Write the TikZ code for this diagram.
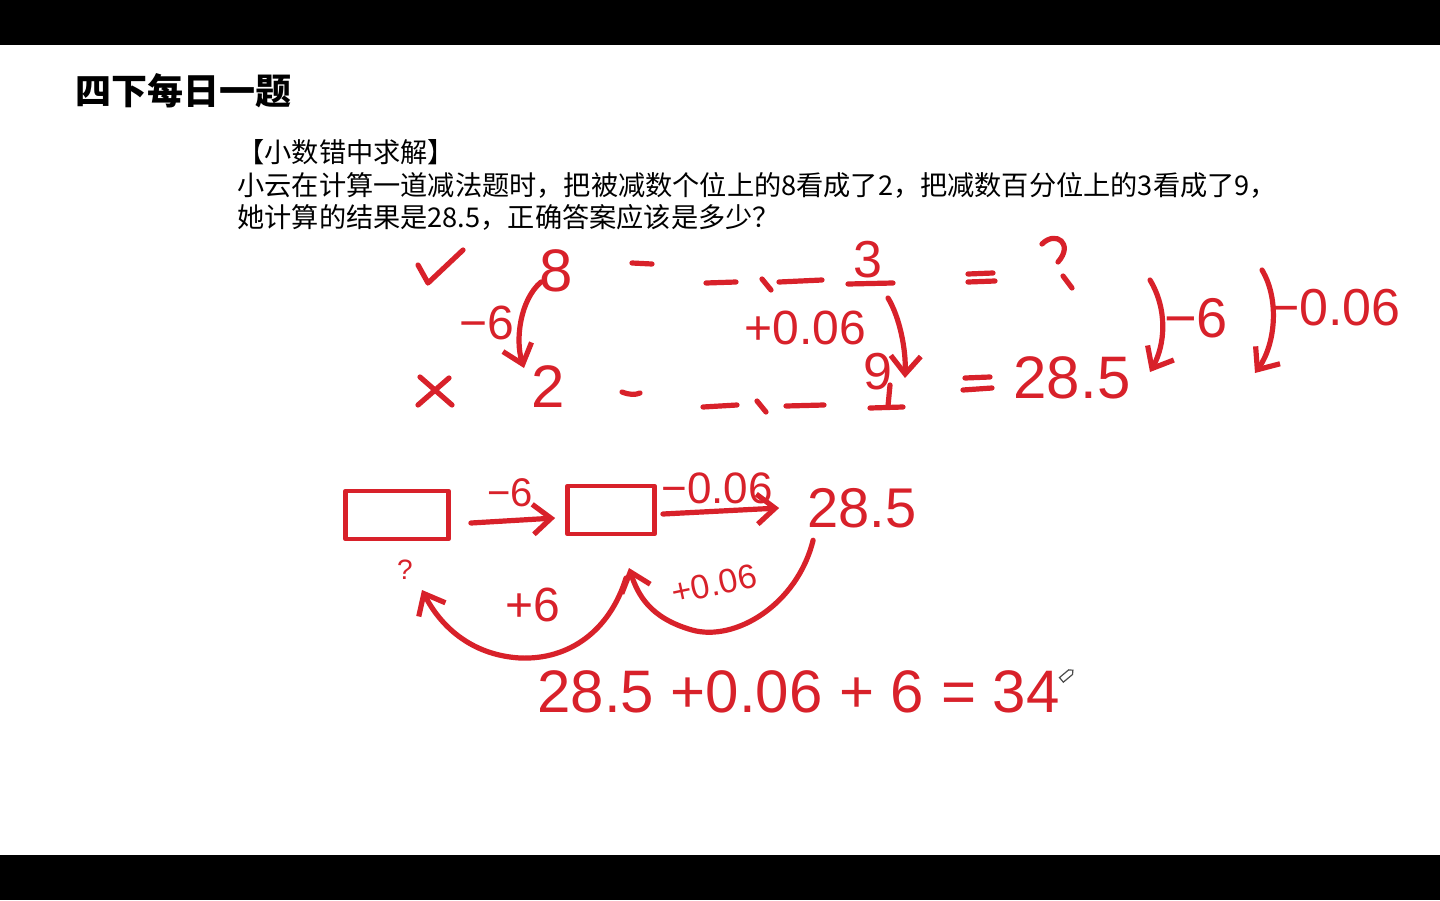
\documentclass[tikz,border=0pt]{standalone}
\usepackage{fontspec}
\usetikzlibrary{arrows.meta}
\newfontfamily\cjk{Noto Sans CJK SC}
\newfontfamily\hwfont{Liberation Sans}
\newcommand\hwsz[1]{\fontsize{#1}{#1}\selectfont}
\definecolor{pen}{RGB}{216,33,42}
\tikzset{
  ink/.style={draw=pen, line width=2.6pt, line cap=round, line join=round},
  inkarrow/.style={ink, -{Straight Barb[length=9pt,width=15pt]}},
  hw/.style={text=pen, font=\hwfont\hwsz{30}, inner sep=0pt},
  cjktext/.style={anchor=west, inner sep=0pt, font=\cjk\hwsz{13.6}},
  inkbox/.style={ink, line width=2.4pt, rectangle, inner sep=0pt}
}
\begin{document}
\begin{tikzpicture}[x=0.5pt,y=-0.5pt]
\useasboundingbox (0,0) rectangle (1440,900);
\fill[black] (0,0) rectangle (1440,900);
\fill[white] (0,45) rectangle (1440,855);

% title and problem text
\node[cjktext, font=\cjk\bfseries\hwsz{18}] (title) at (75,91) {四下每日一题};
\node[cjktext] (l1) at (237,152) {【小数错中求解】};
\node[cjktext] (l2) at (237,185) {小云在计算一道减法题时，把被减数个位上的8看成了2，把减数百分位上的3看成了9，};
\node[cjktext] (l3) at (237,217) {她计算的结果是28.5，正确答案应该是多少？};

% row 1
\draw[ink] (418,265) -- (428,283) -- (463,250);
\node[hw] (eight) at (556,271) {8};
\draw[ink] (632,263) -- (652,264);
\draw[ink] (706,283) -- (736,282);
\draw[ink] (762,279) -- (771,290);
\draw[ink] (779,282) -- (822,280);
\node[hw, font=\hwfont\hwsz{26}] (three) at (868,260) {3};
\draw[ink] (848,284) -- (893,283);
\draw[ink] (968,274) -- (993,273);
\draw[ink] (968,282) -- (995,281);
\draw[ink] (1042,244) .. controls (1056,230) and (1074,244) .. (1058,262);
\draw[ink] (1063,276) -- (1072,288);

% middle labels and arrows
\node[hw, font=\hwfont\hwsz{24}] (m6) at (487,323) {−6};
\node[hw, font=\hwfont\hwsz{24}] (p006) at (805,328) {+0.06};
\coordinate (a1e) at (524,368);
\draw[inkarrow] (541,282) .. controls (520,300) and (515,340) .. (a1e);
\coordinate (a2s) at (888,298);
\coordinate (a2e) at (905,378);
\draw[inkarrow] (a2s) .. controls (900,318) and (906,350) .. (a2e);

% row 2
\draw[ink] (420,377) -- (452,405);
\draw[ink] (449,378) -- (418,405);
\node[hw] (two) at (548,387) {2};
\draw[ink] (622,392) .. controls (630,395) and (635,395) .. (640,393);
\draw[ink] (703,407) -- (737,405);
\draw[ink] (757,401) -- (766,412);
\draw[ink] (786,406) -- (824,405);
\node[hw, font=\hwfont\hwsz{26}] (nine) at (878,372) {9};
\draw[ink] (890,385) -- (888,406);
\draw[ink] (870,408) -- (903,407);
\draw[ink] (965,378) -- (990,377);
\draw[ink] (963,390) -- (992,388);
\node[hw] (wrong) at (1072,378) {28.5};

% right arrows
\coordinate (r1s) at (1150,280);
\coordinate (r1e) at (1150,372);
\draw[inkarrow] (r1s) .. controls (1168,310) and (1165,345) .. (r1e);
\node[hw, font=\hwfont\hwsz{28}] (rm6) at (1196,318) {−6};
\coordinate (r2s) at (1262,270);
\coordinate (r2e) at (1255,373);
\draw[inkarrow] (r2s) .. controls (1280,300) and (1275,345) .. (r2e);
\node[hw, font=\hwfont\hwsz{26}] (rm006) at (1335,308) {−0.06};

% bottom chain
\node[inkbox, minimum width=51.5pt, minimum height=24pt] (box1) at (397,515) {};
\node[inkbox, minimum width=43.5pt, minimum height=24pt] (box2) at (611,510) {};
\node[hw, font=\hwfont\hwsz{28}] (res) at (862,508) {28.5};
\draw[inkarrow] ([xshift=10pt,yshift=-4pt]box1.east) -- ([xshift=-5pt,yshift=-4pt]box2.west);
\node[hw, font=\hwfont\hwsz{20}] (bm6) at (510,493) {−6};
\draw[inkarrow] ([xshift=3pt,yshift=-2pt]box2.east) -- ([xshift=-14pt]res.west);
\node[hw, font=\hwfont\hwsz{22}] (bm006) at (717,488) {−0.06};

\coordinate (cA) at (629,568);
\draw[inkarrow] ([xshift=3pt,yshift=-6pt]res.south west) .. controls (797,605) and (735,642) .. (692,630) .. controls (650,618) and (638,595) .. (cA);
\coordinate (cB) at (422,590);
\draw[inkarrow] (626,578) .. controls (610,630) and (570,660) .. (520,658) .. controls (470,655) and (440,625) .. (cB);
\node[hw, font=\hwfont\hwsz{24}] (bp6) at (533,605) {+6};
\node[hw, font=\hwfont\hwsz{17}, rotate=12] (bp006) at (714,584) {+0.06};
\node[hw, font=\hwfont\hwsz{14}] (q) at (405,570) {?};

% final equation
\node[hw, anchor=west] (eq) at (537,692) {28.5 +0.06 + 6 = 34};
\draw[black!70, line width=0.6pt, rotate around={40:(1066,676)}] (1060,673) -- (1072,673) -- (1075,676) -- (1072,679) -- (1060,679) -- cycle;
\end{tikzpicture}
\end{document}
